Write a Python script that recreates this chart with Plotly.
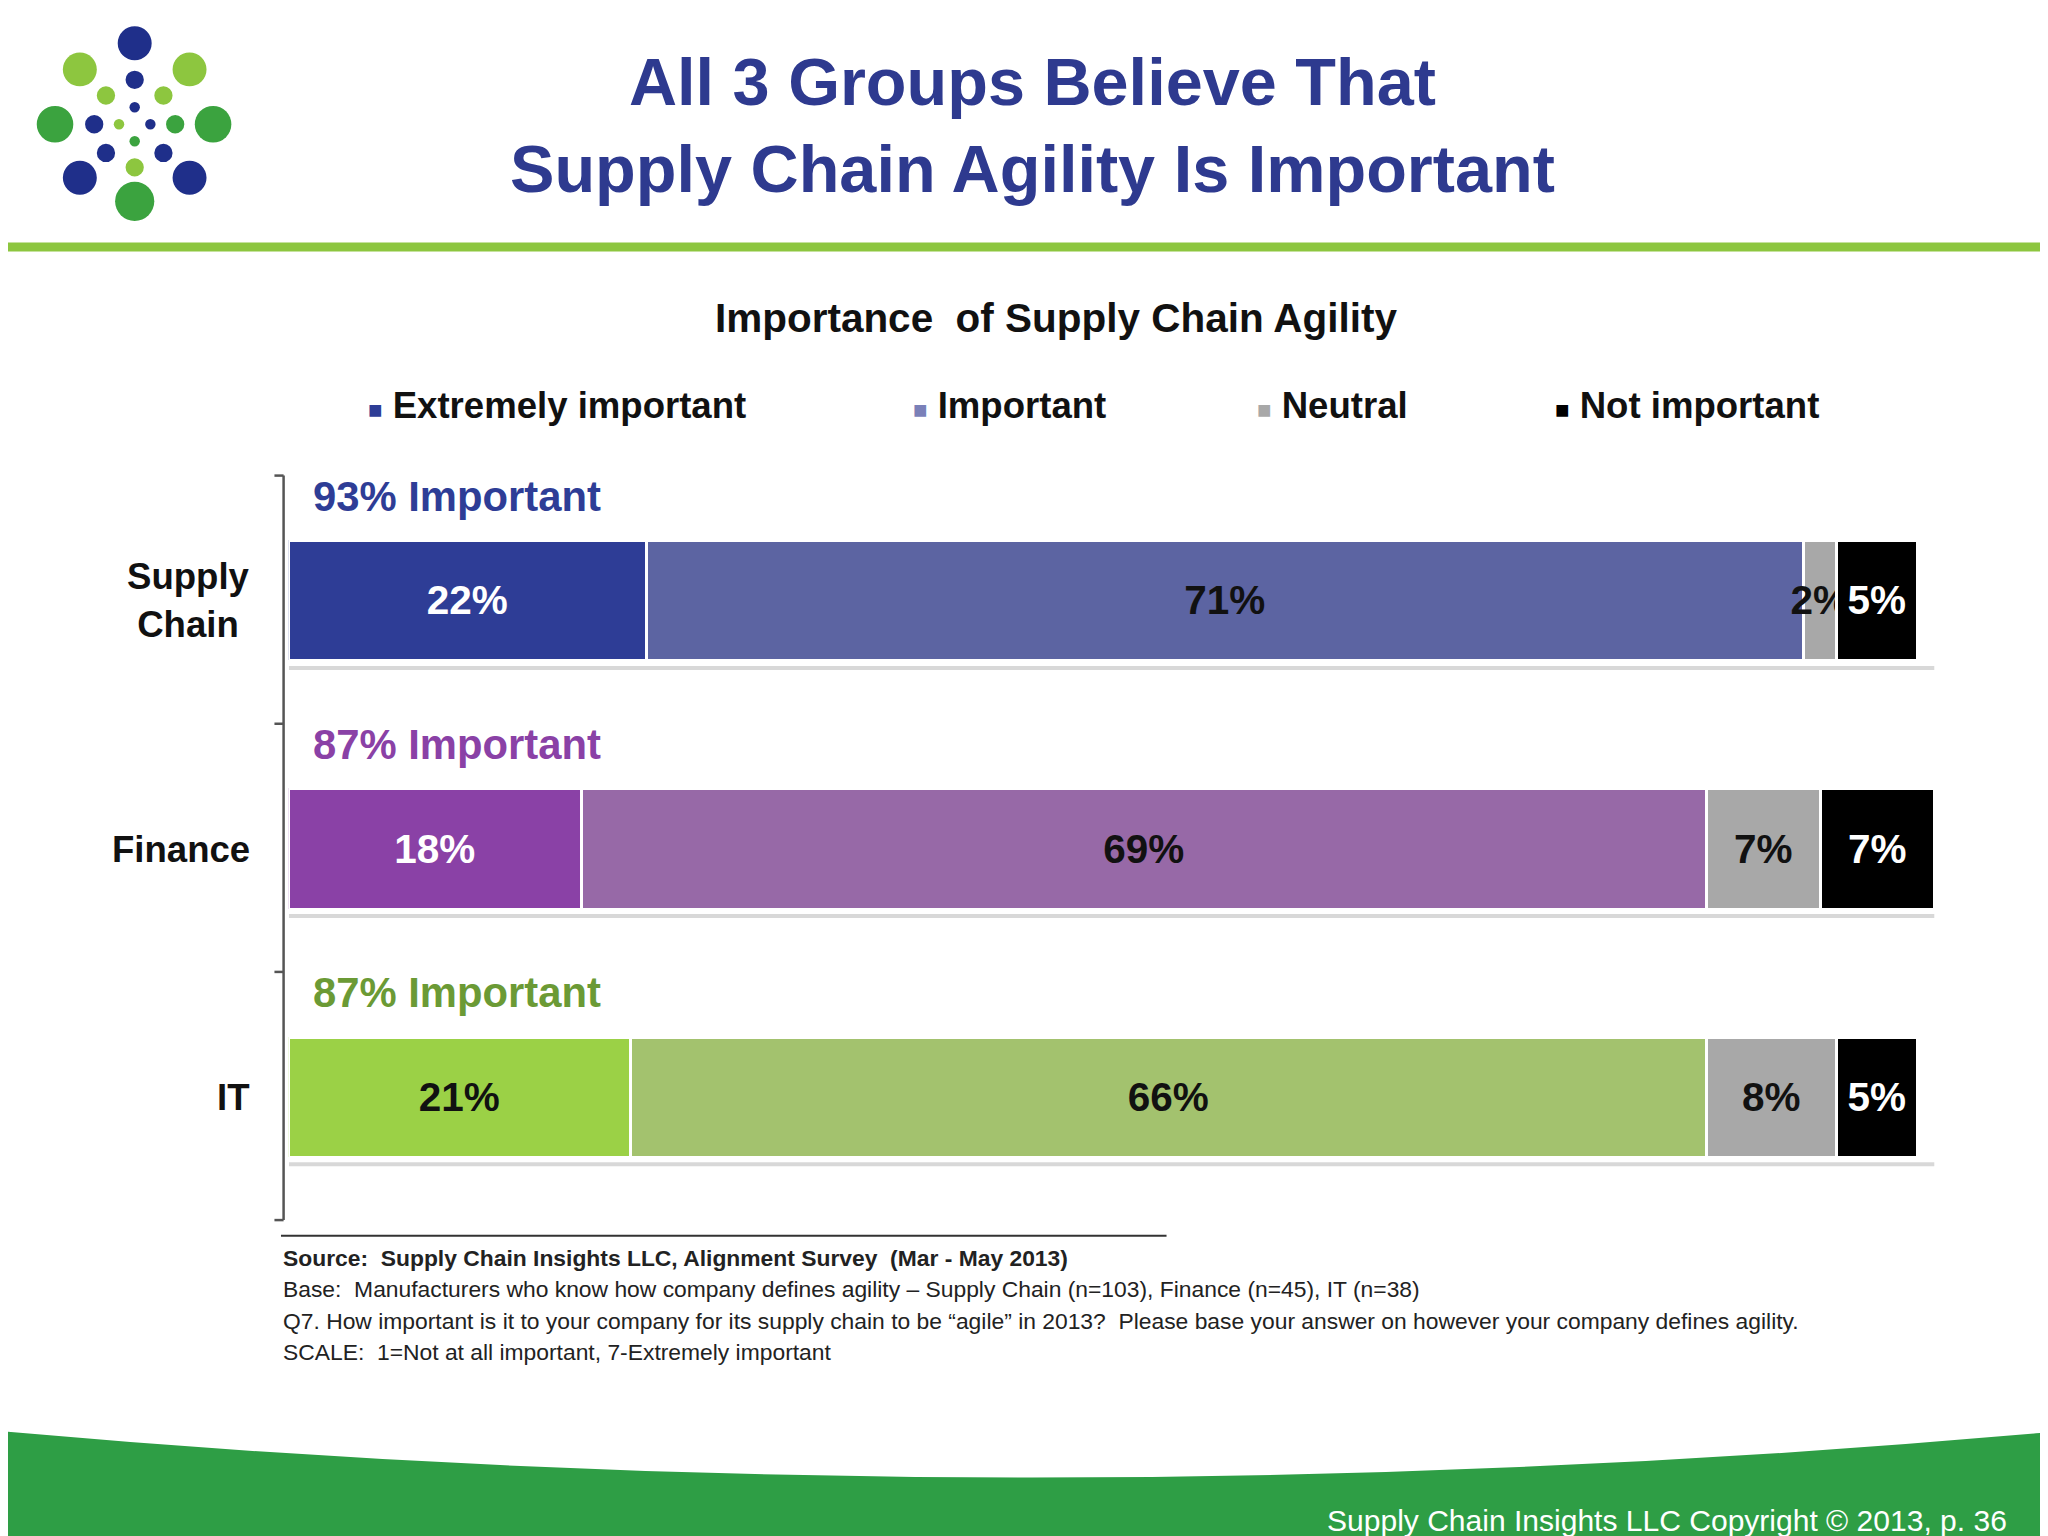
import plotly.graph_objects as go

# reference slide is 1568x1176, output is 2048x1536
S = 2048 / 1568
W, H = 2048, 1536

groups = ["Supply<br>Chain", "Finance", "IT"]
levels = ["Extremely important", "Important", "Neutral", "Not important"]
values = {
    "Extremely important": [22, 18, 21],
    "Important": [71, 69, 66],
    "Neutral": [2, 7, 8],
    "Not important": [5, 7, 5],
}
important_totals = ["93% Important", "87% Important", "87% Important"]

bar_colors = {
    "Extremely important": ["#2e3d96", "#8a41a6", "#9bd146"],
    "Important": ["#5c64a2", "#9769a7", "#a3c26e"],
    "Neutral": ["#a8a8a8", "#a8a8a8", "#a8a8a8"],
    "Not important": ["#000000", "#000000", "#000000"],
}
text_colors = {
    "Extremely important": ["white", "white", "#111111"],
    "Important": ["#111111", "#111111", "#111111"],
    "Neutral": ["#111111", "#111111", "#111111"],
    "Not important": ["white", "white", "white"],
}
legend_colors = ["#2e3d96", "#7a80b8", "#a8a8a8", "#000000"]
group_colors = ["#2e3d96", "#8a41a6", "#6b9a35"]
FONT = "Liberation Sans"


def px(v):
    return v * S


def fx(x):
    return x / 1568


def fy(y):
    return 1 - y / 1176


fig = go.Figure()
ypos = [0, 1, 2]
for lv in levels:
    fig.add_trace(go.Bar(
        y=ypos, x=values[lv], orientation="h", name=lv,
        marker=dict(color=bar_colors[lv], line=dict(color="white", width=3)),
        texttemplate="<b>%{x}%</b>", textposition="inside", textangle=0,
        insidetextanchor="middle", constraintext="none",
        textfont=dict(family=FONT, size=px(31), color=text_colors[lv]),
        width=0.484, showlegend=False, hoverinfo="skip",
    ))

fig.update_layout(
    width=W, height=H, barmode="stack", bargap=0,
    paper_bgcolor="white", plot_bgcolor="white",
    margin=dict(l=0, r=0, t=0, b=0),
    font=dict(family=FONT),
    xaxis=dict(domain=[fx(215), fx(1475)], range=[0, 101], visible=False),
    yaxis=dict(domain=[fy(928), fy(358)], range=[2.495, -0.505],
               tickvals=ypos, ticktext=groups, showticklabels=False,
               showgrid=False, zeroline=False),
)

ann = []
# titles
ann.append(dict(x=fx(784), y=fy(90), xref="paper", yref="paper",
                text="<b>All 3 Groups Believe That<br>Supply Chain Agility Is Important</b>",
                showarrow=False, font=dict(size=px(51), color="#2e3a8f", family=FONT),
                align="center", xanchor="center", yanchor="middle"))
ann.append(dict(x=fx(803), y=fy(237), xref="paper", yref="paper",
                text="<b>Importance  of Supply Chain Agility</b>", showarrow=False,
                font=dict(size=px(31), color="#111111", family=FONT),
                xanchor="center", yanchor="middle"))
# legend
leg_x = [274, 691, 955, 1183]
for lx, lv, c in zip(leg_x, levels, legend_colors):
    ann.append(dict(x=fx(lx), y=fy(304), xref="paper", yref="paper",
                    text=f"<span style='color:{c};font-size:{px(18):.0f}px'>■</span> <b>{lv}</b>",
                    showarrow=False, font=dict(size=px(28), color="#111111", family=FONT),
                    xanchor="left", yanchor="middle"))
# group labels and totals
for i, (g, t) in enumerate(zip(groups, important_totals)):
    ann.append(dict(x=fx(187), y=i, xref="paper", yref="y", text=f"<b>{g}</b>",
                    showarrow=False, xanchor="right", align="center", yanchor="middle",
                    font=dict(size=px(28), color="#111111", family=FONT)))
    ann.append(dict(x=fx(232), y=i - 0.32, xref="paper", yref="y", text=f"<b>{t}</b>",
                    showarrow=False, xanchor="left", yanchor="bottom",
                    font=dict(size=px(32), color=group_colors[i], family=FONT)))
# source notes
notes = ["<b>Source:  Supply Chain Insights LLC, Alignment Survey  (Mar - May 2013)</b>",
         "Base:  Manufacturers who know how company defines agility – Supply Chain (n=103), Finance (n=45), IT (n=38)",
         "Q7. How important is it to your company for its supply chain to be “agile” in 2013?  Please base your answer on however your company defines agility.",
         "SCALE:  1=Not at all important, 7-Extremely important"]
for k, n in enumerate(notes):
    ann.append(dict(x=fx(209), y=fy(957 + 24 * k), xref="paper", yref="paper", text=n,
                    showarrow=False, xanchor="left", yanchor="middle",
                    font=dict(size=px(17.5), color="#222222", family=FONT)))
ann.append(dict(x=fx(1532), y=fy(1158), xref="paper", yref="paper",
                text="Supply Chain Insights LLC Copyright © 2013, p. 36", showarrow=False,
                xanchor="right", yanchor="middle", font=dict(size=px(23), color="white", family=FONT)))
fig.update_layout(annotations=ann)

shapes = []
# header rule
shapes.append(dict(type="line", xref="paper", yref="paper", x0=0, x1=1, y0=fy(183), y1=fy(183),
                   line=dict(color="#8dc63f", width=px(7))))
# bottom band
shapes.append(dict(type="path", xref="paper", yref="paper",
                   path=f"M 0 {fy(1090)} Q 0.5 {fy(1160)} 1 {fy(1090)} L 1 0 L 0 0 Z",
                   fillcolor="#2e9e45", line=dict(width=0)))
# left bracket axis
shapes.append(dict(type="line", xref="paper", yref="paper", x0=fx(211), x1=fx(211),
                   y0=fy(928), y1=fy(358), line=dict(color="#555555", width=2.5)))
for yy in [358, 548, 738, 928]:
    shapes.append(dict(type="line", xref="paper", yref="paper", x0=fx(204), x1=fx(211),
                       y0=fy(yy), y1=fy(yy), line=dict(color="#555555", width=2.5)))
# bar shadows
for i in ypos:
    shapes.append(dict(type="line", xref="x", yref="y", x0=0, x1=101, y0=i + 0.27, y1=i + 0.27,
                       line=dict(color="#d8d8d8", width=4)))
# source rule
shapes.append(dict(type="line", xref="paper", yref="paper", x0=fx(209), x1=fx(887),
                   y0=fy(940), y1=fy(940), line=dict(color="#333333", width=2)))
# logo dots
logo = [(97, 27, 13, "#1f2f8a"), (55, 47, 13, "#8dc63f"), (139, 47, 13, "#8dc63f"),
        (36, 89, 14, "#3ba33f"), (157, 89, 14, "#3ba33f"), (55, 130, 13, "#1f2f8a"),
        (139, 130, 13, "#1f2f8a"), (97, 148, 15, "#3ba33f"), (97, 55, 7, "#1f2f8a"),
        (75, 67, 7, "#8dc63f"), (119, 67, 7, "#8dc63f"), (66, 89, 7, "#1f2f8a"),
        (128, 89, 7, "#3ba33f"), (75, 111, 7, "#1f2f8a"), (119, 111, 7, "#1f2f8a"),
        (97, 122, 7, "#8dc63f"), (97, 76, 4, "#1f2f8a"), (85, 89, 4, "#8dc63f"),
        (109, 89, 4, "#1f2f8a"), (97, 102, 4, "#3ba33f")]
for cx, cy, r, c in logo:
    shapes.append(dict(type="circle", xref="paper", yref="paper", x0=fx(cx - r), x1=fx(cx + r),
                       y0=fy(cy + r), y1=fy(cy - r), fillcolor=c, line=dict(width=0)))
fig.update_layout(shapes=shapes)

fig.write_html("out.html")
